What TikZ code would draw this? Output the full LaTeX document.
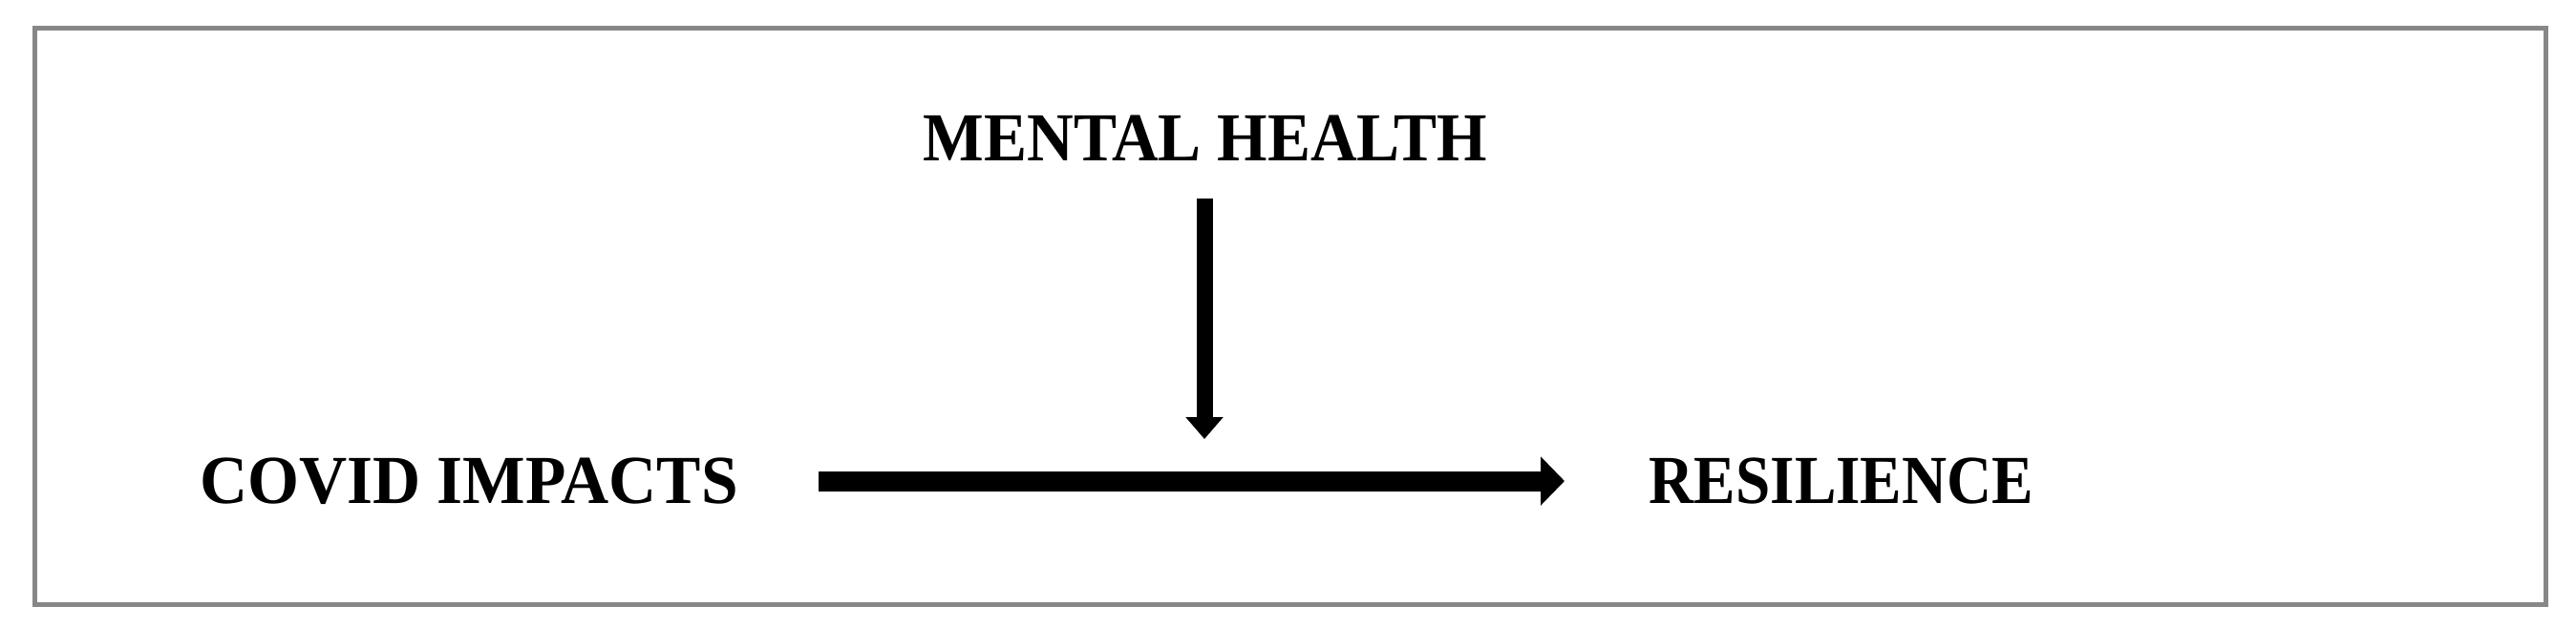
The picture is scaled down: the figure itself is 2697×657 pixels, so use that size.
\documentclass[tikz,border=0pt]{standalone}
\usepackage{fontspec}
\setmainfont{Liberation Serif}
\usetikzlibrary{arrows.meta}
\tikzset{
  lbl/.style={font=\fontsize{72}{80}\selectfont\bfseries, inner sep=0pt, anchor=base},
  frame/.style={draw=black!47, line width=5pt},
  harrow/.style={line width=21pt, -{Triangle[length=25pt,width=50pt]}},
  varrow/.style={line width=17pt, -{Triangle[length=23pt,width=38pt]}}
}
\begin{document}
\begin{tikzpicture}[x=1pt,y=-1pt]
\useasboundingbox (0,0) rectangle (2697,657);
\draw[frame] (36,29) rectangle (2665,633);
\node[lbl, xscale=0.937] (mh) at (1262,168) {MENTAL HEALTH};
\node[lbl, xscale=0.964] (ci) at (491,527) {COVID IMPACTS};
\node[lbl, xscale=0.906] (re) at (1928,527) {RESILIENCE};
\coordinate (hs) at (857,504);
\coordinate (he) at (1638,504);
\coordinate (vs) at (1261,208);
\coordinate (ve) at (1261,460);
\draw[harrow] (hs) -- (he);
\draw[varrow] (vs) -- (ve);
\end{tikzpicture}
\end{document}
